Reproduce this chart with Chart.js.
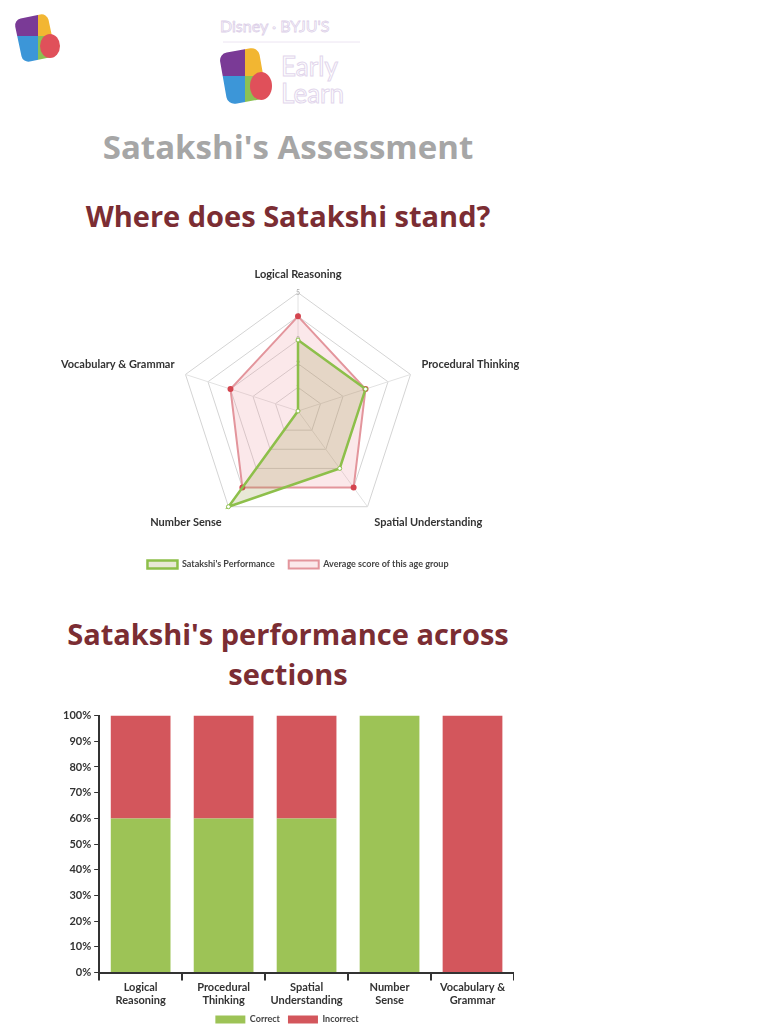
<!DOCTYPE html>
<html>
<head>
<meta charset="utf-8">
<script src="https://cdn.jsdelivr.net/npm/chart.js@4.4.1/dist/chart.umd.min.js"></script>
<style>
  body { margin: 0; background: #fff; font-family: Lato, "Open Sans", sans-serif; }
  .page { position: relative; width: 768px; height: 1024px; overflow: hidden; }
  .title { position: absolute; left: 0; width: 576px; text-align: center; font-family: "Open Sans", sans-serif; font-weight: 700; margin: 0; }
  .main { top: 124px; font-size: 33px; color: #a6a6a6; }
  .sub { color: #7b2d33; font-size: 29px; line-height: 40px; }
  .box { position: absolute; }
</style>
</head>
<body>
<div class="page">
  <!-- small logo top left -->
  <svg class="box" style="left:12px;top:10px" width="52" height="56" viewBox="0 0 52 56">
    <defs>
      <clipPath id="lg1"><rect x="6" y="6" width="34" height="44" rx="7" transform="rotate(-12 23 28)"/></clipPath>
    </defs>
    <g clip-path="url(#lg1)">
      <rect x="0" y="0" width="26" height="26" fill="#7a3a96"/>
      <rect x="26" y="0" width="26" height="26" fill="#f2b632"/>
      <rect x="0" y="26" width="26" height="30" fill="#3c96d8"/>
      <rect x="26" y="26" width="26" height="30" fill="#8cc152"/>
    </g>
    <ellipse cx="38" cy="36" rx="10" ry="12" fill="#e0505a"/>
  </svg>
  <!-- faint brand logo -->
  <svg class="box" style="left:215px;top:10px" width="150" height="98" viewBox="0 0 150 98">
    <text x="5" y="22" font-family="Lato" font-size="16" fill="#fff" stroke="#dccfe8" stroke-width="0.8">Disney · BYJU'S</text>
    <line x1="8" y1="32" x2="145" y2="32" stroke="#ece4f2" stroke-width="1"/>
    <defs>
      <clipPath id="lg2"><rect x="8" y="40" width="40" height="52" rx="8" transform="rotate(-10 28 66)"/></clipPath>
    </defs>
    <g clip-path="url(#lg2)">
      <rect x="0" y="36" width="30" height="30" fill="#7a3a96"/>
      <rect x="30" y="36" width="30" height="30" fill="#f2b632"/>
      <rect x="0" y="66" width="30" height="32" fill="#3c96d8"/>
      <rect x="30" y="66" width="30" height="32" fill="#8cc152"/>
    </g>
    <ellipse cx="46" cy="76" rx="11" ry="14" fill="#e0505a"/>
    <text x="66" y="66" font-family="Lato" font-size="26" fill="#fff" stroke="#e2d6ec" stroke-width="1">Early</text>
    <text x="66" y="93" font-family="Lato" font-size="26" fill="#fff" stroke="#e2d6ec" stroke-width="1">Learn</text>
  </svg>

  <h1 class="title main">Satakshi's Assessment</h1>
  <h2 class="title sub" style="top:196px">Where does Satakshi stand?</h2>
  <div class="box" style="left:38px;top:259px;width:520px;height:320px"><canvas id="radarChart"></canvas></div>

  <h2 class="title sub" style="top:614px">Satakshi's performance across<br>sections</h2>
  <div class="box" style="left:60px;top:706px;width:454px;height:328px"><canvas id="barChart"></canvas></div>
</div>

<script>
const sections = ["Logical Reasoning", "Procedural Thinking", "Spatial Understanding", "Number Sense", "Vocabulary & Grammar"];
const barLabels = [["Logical", "Reasoning"], ["Procedural", "Thinking"], ["Spatial", "Understanding"], ["Number", "Sense"], ["Vocabulary &", "Grammar"]];
const satakshiScores = [3, 3, 3, 5, 0];
const ageGroupScores = [4, 3, 4, 4, 3];
const correctPct = [60, 60, 60, 100, 0];
const incorrectPct = [40, 40, 40, 0, 100];

Chart.defaults.font.family = "Lato, 'Open Sans', sans-serif";
Chart.defaults.color = "#333";

new Chart(document.getElementById("radarChart"), {
  type: "radar",
  data: {
    labels: sections,
    datasets: [
      {
        label: "Satakshi's Performance",
        data: satakshiScores,
        borderColor: "#8dbf4a",
        backgroundColor: "rgba(150,150,70,0.22)",
        borderWidth: 2.5,
        pointBackgroundColor: "#fff",
        pointBorderColor: "#8dbf4a",
        pointRadius: 2,
        pointBorderWidth: 1,
      },
      {
        label: "Average score of this age group",
        data: ageGroupScores,
        borderColor: "#e3959c",
        backgroundColor: "rgba(235,140,150,0.2)",
        borderWidth: 2,
        pointBackgroundColor: "#d4454f",
        pointBorderColor: "#d4454f",
        pointRadius: 2,
      },
    ],
  },
  options: {
    responsive: true,
    maintainAspectRatio: false,
    animation: false,
    plugins: {
      legend: {
        position: "bottom",
        labels: { boxWidth: 30, boxHeight: 8, font: { size: 9, weight: "bold" }, color: "#444", padding: 14 },
      },
      tooltip: { enabled: false },
    },
    scales: {
      r: {
        min: 0,
        max: 5,
        ticks: { stepSize: 1, color: "#aaa", backdropColor: "rgba(0,0,0,0)", font: { size: 7 } },
        grid: { color: "#d4d4d4" },
        angleLines: { color: "#e2e2e2" },
        pointLabels: { font: { size: 11, weight: "bold" }, color: "#333", padding: 6 },
      },
    },
  },
});

new Chart(document.getElementById("barChart"), {
  type: "bar",
  data: {
    labels: barLabels,
    datasets: [
      { label: "Correct", data: correctPct, backgroundColor: "#9dc356", barPercentage: 0.72, categoryPercentage: 1 },
      { label: "Incorrect", data: incorrectPct, backgroundColor: "#d3565c", barPercentage: 0.72, categoryPercentage: 1 },
    ],
  },
  options: {
    responsive: true,
    maintainAspectRatio: false,
    animation: false,
    plugins: {
      legend: {
        position: "bottom",
        labels: { boxWidth: 30, boxHeight: 8, font: { size: 9, weight: "bold" }, color: "#444", padding: 8 },
      },
      tooltip: { enabled: false },
    },
    scales: {
      x: {
        stacked: true,
        border: { color: "#333", width: 2 },
        grid: { drawOnChartArea: false, color: "#333", tickLength: 8, lineWidth: 2 },
        ticks: { font: { size: 11, weight: "bold" }, color: "#333", maxRotation: 0, padding: 0 },
      },
      y: {
        stacked: true,
        min: 0,
        max: 100,
        border: { color: "#333", width: 2 },
        grid: { drawOnChartArea: false, color: "#333", tickLength: 5 },
        ticks: { stepSize: 10, font: { size: 11, weight: "bold" }, color: "#333", callback: (v) => v + "%" },
      },
    },
  },
});
</script>
</body>
</html>
